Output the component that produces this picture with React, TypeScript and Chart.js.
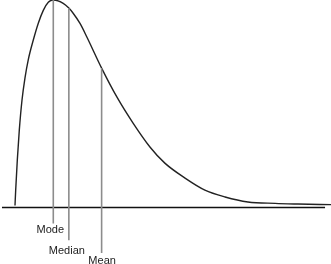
import React, { useEffect, useRef } from "react";
import { Chart, registerables } from "chart.js";

Chart.register(...registerables);

// Density curve (skewed distribution), x in arbitrary units, y in % of peak
const curveX = [0.453, 0.474, 0.523, 0.583, 0.665, 0.755, 0.855, 1.006, 1.157, 1.308, 1.459, 1.61, 1.91, 2.08, 2.21, 2.417, 2.62, 3.07, 3.53, 4.02, 4.53, 4.98, 5.59, 6.19, 6.8, 7.49, 8.31, 9.0, 10.0];
const curveY = [1.0, 8.4, 22.9, 37.3, 51.8, 62.5, 71.3, 80.7, 88.8, 95.0, 98.9, 100, 98.4, 96.1, 93.6, 88.7, 82.3, 67.2, 53.3, 40.7, 29.2, 21.4, 14.2, 8.4, 5.1, 2.7, 2.0, 1.7, 1.4];

// Central tendency markers
const markerLabels = ["Mode", "Median", "Mean"];
const markerX = [1.61, 2.08, 3.07];
const markerTop = [100, 96.1, 67.2];
const markerBottom = [-7.7, -15.7, -21.9];
const labelY = [-11, -20.8, -25.6];

// Baseline (horizontal axis)
const baselineX = [0.06, 9.82];

const X_MIN = 0;
const X_MAX = 10;
const Y_MIN = -27.2;
const Y_MAX = 100;

const labelPlugin = {
  id: "markerLabels",
  afterDatasetsDraw(chart: any) {
    const { ctx, scales } = chart;
    ctx.save();
    ctx.font = "11px 'Liberation Sans', Arial, sans-serif";
    ctx.fillStyle = "#222";
    ctx.textAlign = "center";
    ctx.textBaseline = "middle";
    const offsets = [-3, -2, 0.5];
    markerLabels.forEach((t, i) => {
      const px = scales.x.getPixelForValue(markerX[i]) + offsets[i];
      const py = scales.y.getPixelForValue(labelY[i]);
      ctx.fillText(t, px, py);
    });
    ctx.restore();
  },
};

export default function App() {
  const ref = useRef<HTMLCanvasElement | null>(null);

  useEffect(() => {
    document.body.style.margin = "0";
    if (!ref.current) return;
    const markerSets = markerLabels.map((name, i) => ({
      label: name,
      data: [
        { x: markerX[i], y: markerTop[i] },
        { x: markerX[i], y: markerBottom[i] },
      ],
      borderColor: "#8c8c8c",
      borderWidth: 1.6,
      pointRadius: 0,
      showLine: true,
      clip: false as any,
    }));
    const chart = new Chart(ref.current, {
      type: "scatter",
      data: {
        datasets: [
          ...markerSets,
          {
            label: "baseline",
            data: baselineX.map((x) => ({ x, y: 0 })),
            borderColor: "#111",
            borderWidth: 1.4,
            pointRadius: 0,
            showLine: true,
            clip: false as any,
          },
          {
            label: "density",
            data: curveX.map((x, i) => ({ x, y: curveY[i] })),
            borderColor: "#222",
            borderWidth: 1.4,
            pointRadius: 0,
            showLine: true,
            cubicInterpolationMode: "monotone",
            clip: false as any,
          },
        ],
      },
      options: {
        animation: false,
        responsive: false,
        maintainAspectRatio: false,
        layout: { padding: 0 },
        plugins: { legend: { display: false }, tooltip: { enabled: false } },
        scales: {
          x: { type: "linear", min: X_MIN, max: X_MAX, display: false },
          y: { type: "linear", min: Y_MIN, max: Y_MAX, display: false },
        },
      },
      plugins: [labelPlugin],
    });
    return () => chart.destroy();
  }, []);

  return (
    <div style={{ width: 331, height: 264, background: "#fff" }}>
      <canvas ref={ref} width={331} height={264} />
    </div>
  );
}
